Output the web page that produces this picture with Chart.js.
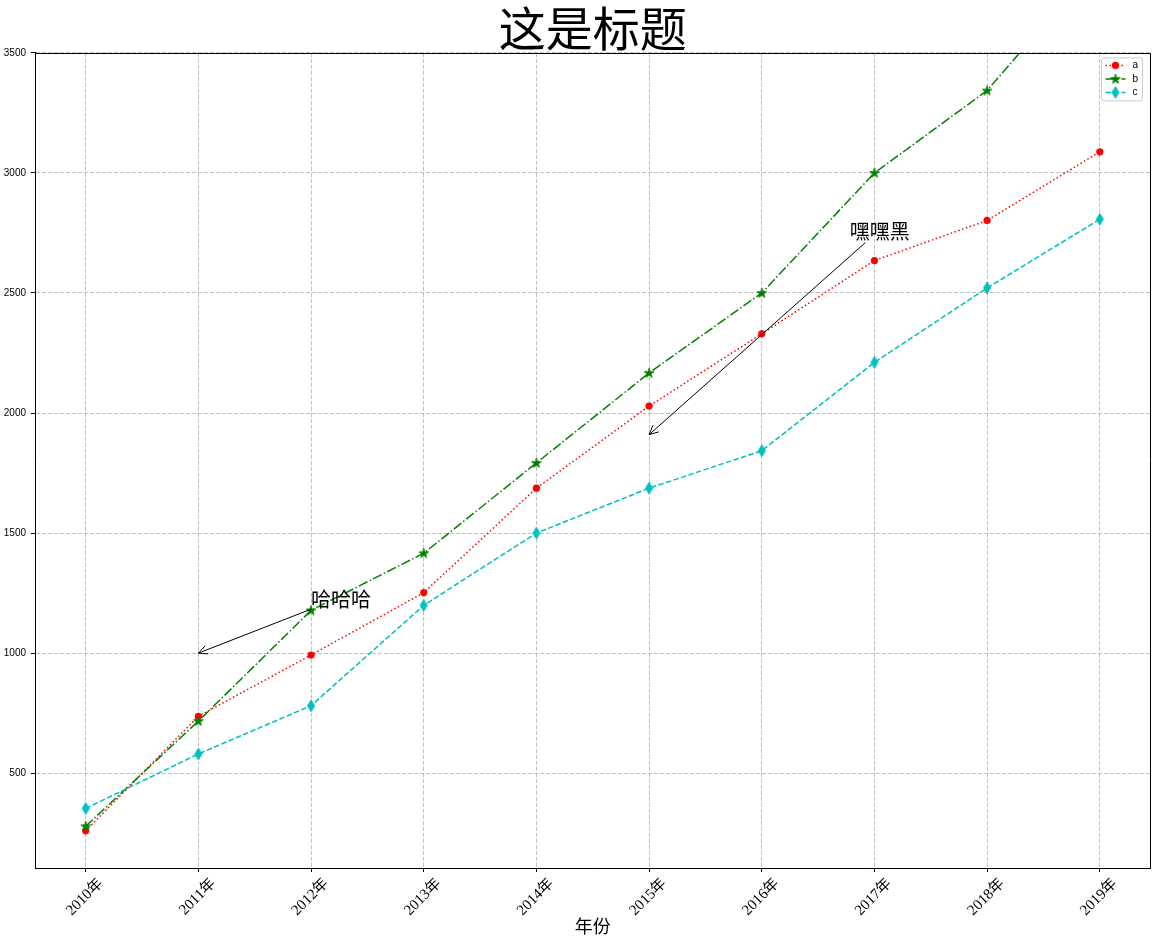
<!DOCTYPE html>
<html>
<head>
<meta charset="utf-8">
<script src="https://cdn.jsdelivr.net/npm/chart.js@4.4.1/dist/chart.umd.min.js"></script>
<style>
  html, body { margin: 0; padding: 0; background: #fff; }
  #wrap { width: 1157px; height: 945px; position: relative; }
</style>
</head>
<body>
<div id="wrap"><canvas id="lineChart"></canvas></div>
<script>
// données
const years = [2010, 2011, 2012, 2013, 2014, 2015, 2016, 2017, 2018, 2019];
const seriesA = [260, 737, 992, 1252, 1687, 2029, 2330, 2635, 2802, 3088];
const seriesB = [279, 717, 1178, 1416, 1792, 2167, 2500, 3000, 3343, 3885];
const seriesC = [353, 580, 781, 1199, 1500, 1687, 1843, 2211, 2521, 2807];
const seriesNames = ['a', 'b', 'c'];
const yTicks = [500, 1000, 1500, 2000, 2500, 3000, 3500];

// annotations (coordonnées en unités de données)
const noteTexts = ['哈哈哈', '嘿嘿黑'];
const noteTextX = [2012, 2016.78];
const noteTextY = [1192, 2725];
const noteTailX = [2012, 2016.92];
const noteTailY = [1183, 2710];
const noteTipX = [2011, 2015];
const noteTipY = [1000, 1910];

// marqueurs façon matplotlib
function starMarker(color) {
  const c = document.createElement('canvas');
  c.width = 12; c.height = 12;
  const g = c.getContext('2d');
  const R = 5.2, r = R * 0.382;
  g.beginPath();
  for (let i = 0; i < 10; i++) {
    const rad = i % 2 === 0 ? R : r;
    const a = -Math.PI / 2 + i * Math.PI / 5;
    const px = 6 + rad * Math.cos(a), py = 6.3 + rad * Math.sin(a);
    i === 0 ? g.moveTo(px, py) : g.lineTo(px, py);
  }
  g.closePath();
  g.fillStyle = color; g.fill();
  g.strokeStyle = color; g.lineWidth = 0.8; g.stroke();
  return c;
}

function thinDiamond(color) {
  const c = document.createElement('canvas');
  c.width = 10; c.height = 14;
  const g = c.getContext('2d');
  g.beginPath();
  g.moveTo(5, 1); g.lineTo(8.6, 7); g.lineTo(5, 13); g.lineTo(1.4, 7);
  g.closePath();
  g.fillStyle = color; g.fill();
  g.strokeStyle = color; g.lineWidth = 0.8; g.stroke();
  return c;
}

const starImg = starMarker('#008000');
const diamondImg = thinDiamond('#00bfbf');

function toPoints(vals) {
  return years.map((yr, i) => ({ x: yr, y: vals[i] }));
}

// cadre, légende interne et flèches
const extras = {
  id: 'extras',
  afterDraw(chart) {
    const { ctx, chartArea: ca, scales: { x, y } } = chart;
    const ds = chart.data.datasets;
    ctx.save();

    // cadre complet (haut et droite)
    ctx.strokeStyle = '#000';
    ctx.lineWidth = 1;
    ctx.beginPath();
    ctx.moveTo(Math.round(ca.left), Math.round(ca.top) + 0.5);
    ctx.lineTo(Math.round(ca.right) - 0.5, Math.round(ca.top) + 0.5);
    ctx.lineTo(Math.round(ca.right) - 0.5, Math.round(ca.bottom));
    ctx.stroke();

    // légende en haut à droite
    const bw = 41, bh = 43;
    const bx = ca.right - 8 - bw, by = ca.top + 5;
    ctx.beginPath();
    const rr = 2;
    ctx.moveTo(bx + rr, by);
    ctx.lineTo(bx + bw - rr, by); ctx.quadraticCurveTo(bx + bw, by, bx + bw, by + rr);
    ctx.lineTo(bx + bw, by + bh - rr); ctx.quadraticCurveTo(bx + bw, by + bh, bx + bw - rr, by + bh);
    ctx.lineTo(bx + rr, by + bh); ctx.quadraticCurveTo(bx, by + bh, bx, by + bh - rr);
    ctx.lineTo(bx, by + rr); ctx.quadraticCurveTo(bx, by, bx + rr, by);
    ctx.closePath();
    ctx.fillStyle = 'rgba(255,255,255,0.8)';
    ctx.fill();
    ctx.strokeStyle = '#cccccc';
    ctx.stroke();

    ctx.font = '10px "Liberation Sans"';
    ctx.textBaseline = 'middle';
    ctx.textAlign = 'left';
    seriesNames.forEach((name, i) => {
      const d = ds[i];
      const ry = by + 7.5 + i * 13.5;
      ctx.save();
      ctx.strokeStyle = d.borderColor;
      ctx.lineWidth = d.borderWidth;
      ctx.setLineDash(d.borderDash);
      ctx.beginPath();
      ctx.moveTo(bx + 4, ry); ctx.lineTo(bx + 24, ry);
      ctx.stroke();
      ctx.restore();
      const ps = d.pointStyle;
      if (ps === 'circle') {
        ctx.beginPath();
        ctx.arc(bx + 14, ry, d.pointRadius, 0, Math.PI * 2);
        ctx.fillStyle = d.pointBackgroundColor;
        ctx.fill();
      } else {
        ctx.drawImage(ps, bx + 14 - ps.width / 2, ry - ps.height / 2);
      }
      ctx.fillStyle = '#000';
      ctx.fillText(name, bx + 31, ry);
    });

    // annotations avec flèche
    noteTexts.forEach((txt, i) => {
      const tx = x.getPixelForValue(noteTextX[i]);
      const ty = y.getPixelForValue(noteTextY[i]);
      ctx.fillStyle = '#000';
      ctx.font = '20px "Noto Sans CJK SC"';
      ctx.textBaseline = 'alphabetic';
      ctx.textAlign = 'left';
      ctx.fillText(txt, tx, ty);

      const x0 = x.getPixelForValue(noteTailX[i]), y0 = y.getPixelForValue(noteTailY[i]);
      const x1 = x.getPixelForValue(noteTipX[i]), y1 = y.getPixelForValue(noteTipY[i]);
      ctx.strokeStyle = '#000';
      ctx.lineWidth = 1;
      ctx.beginPath();
      ctx.moveTo(x0, y0); ctx.lineTo(x1, y1);
      ctx.stroke();
      const ang = Math.atan2(y0 - y1, x0 - x1);
      const hl = 10, ha = 0.45;
      ctx.beginPath();
      ctx.moveTo(x1 + hl * Math.cos(ang + ha), y1 + hl * Math.sin(ang + ha));
      ctx.lineTo(x1, y1);
      ctx.lineTo(x1 + hl * Math.cos(ang - ha), y1 + hl * Math.sin(ang - ha));
      ctx.stroke();
    });
    ctx.restore();
  }
};

const ctx = document.getElementById('lineChart').getContext('2d');
new Chart(ctx, {
  type: 'line',
  data: {
    datasets: [
      {
        label: seriesNames[0],
        data: toPoints(seriesA),
        borderColor: '#ff0000',
        borderWidth: 1.5,
        borderDash: [1.5, 2.5],
        pointStyle: 'circle',
        pointRadius: 3.6,
        pointBorderWidth: 0,
        pointBackgroundColor: '#ff0000',
        pointBorderColor: '#ff0000',
        tension: 0,
        order: 3
      },
      {
        label: seriesNames[1],
        data: toPoints(seriesB),
        borderColor: '#008000',
        borderWidth: 1.5,
        borderDash: [9.6, 2.4, 1.5, 2.4],
        pointStyle: starImg,
        pointRadius: 5,
        tension: 0,
        order: 2
      },
      {
        label: seriesNames[2],
        data: toPoints(seriesC),
        borderColor: '#00bfbf',
        borderWidth: 1.5,
        borderDash: [5.5, 2.4],
        pointStyle: diamondImg,
        pointRadius: 5,
        tension: 0,
        order: 1
      }
    ]
  },
  options: {
    responsive: true,
    maintainAspectRatio: false,
    animation: false,
    events: [],
    layout: { padding: { right: 4 } },
    plugins: {
      legend: { display: false },
      tooltip: { enabled: false },
      title: {
        display: true,
        text: '这是标题',
        fullSize: false,
        color: '#000',
        font: { family: '"Noto Sans CJK SC"', size: 47, weight: 'normal', lineHeight: 1.04 },
        padding: { top: 4, bottom: 0 }
      }
    },
    scales: {
      x: {
        type: 'linear',
        min: 2009.55,
        max: 2019.45,
        afterBuildTicks: s => { s.ticks = years.map(v => ({ value: v })); },
        afterFit: s => { s.height = 77; },
        grid: { color: '#b0b0b0', lineWidth: 0.8, tickColor: '#000', tickLength: 4, tickWidth: 1 },
        border: { color: '#000', width: 1, dash: [4, 2] },
        ticks: {
          autoSkip: false,
          maxRotation: 45,
          minRotation: 45,
          labelOffset: 15,
          padding: 3,
          color: '#000',
          font: { family: '"Liberation Serif", "Noto Sans CJK SC"', size: 15 },
          callback: v => v + '年'
        },
        title: {
          display: true,
          text: '年份',
          color: '#000',
          font: { family: '"Liberation Serif", "Noto Sans CJK SC"', size: 18 },
          padding: { top: 0, bottom: 6 }
        }
      },
      y: {
        type: 'linear',
        min: 105,
        max: 3500,
        afterBuildTicks: s => { s.ticks = yTicks.map(v => ({ value: v })); },
        afterFit: s => { s.width = 35; },
        grid: { color: '#b0b0b0', lineWidth: 0.8, tickColor: '#000', tickLength: 4, tickWidth: 1 },
        border: { color: '#000', width: 1, dash: [4, 2] },
        ticks: {
          padding: 5,
          color: '#000',
          font: { family: '"Liberation Sans"', size: 10 },
          callback: v => String(v)
        }
      }
    }
  },
  plugins: [extras]
});
</script>
</body>
</html>
